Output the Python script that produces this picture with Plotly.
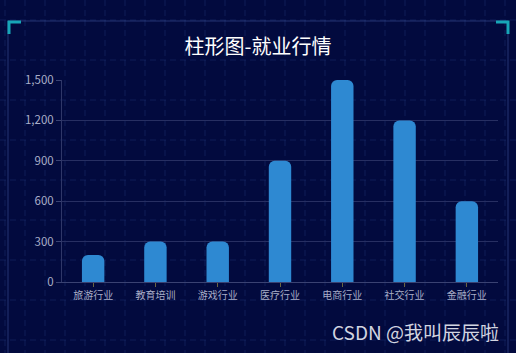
import plotly.graph_objects as go

categories = ["旅游行业", "教育培训", "游戏行业", "医疗行业", "电商行业", "社交行业", "金融行业"]
values = [200, 300, 300, 900, 1500, 1200, 600]
y_ticks = [0, 300, 600, 900, 1200, 1500]

W, H = 516, 353
L, R, T, B = 62, 18, 80, 71
PW, PH = W - L - R, H - T - B

def px(x):
    return (x - L) / PW

def py(y):
    return (H - B - y) / PH

fig = go.Figure()
fig.add_trace(go.Bar(
    x=categories, y=values, width=0.36,
    marker=dict(color="#2e89d2", cornerradius=6, line=dict(width=0)),
    hoverinfo="x+y",
))

shapes = []
grid_c = "rgba(40,60,130,0.38)"
for xv in range(5, W, 20):
    shapes.append(dict(type="line", xref="paper", yref="paper", x0=px(xv), x1=px(xv),
                       y0=py(0), y1=py(H), line=dict(color=grid_c, width=1, dash="6px,4px"), layer="below"))
for yv in range(20, H, 40):
    shapes.append(dict(type="line", xref="paper", yref="paper", x0=px(0), x1=px(W),
                       y0=py(yv), y1=py(yv), line=dict(color=grid_c, width=1, dash="6px,4px"), layer="below"))
border_c = "rgba(60,80,150,0.6)"
shapes.append(dict(type="line", xref="paper", yref="paper", x0=px(8), x1=px(508), y0=py(21), y1=py(21),
                   line=dict(color=border_c, width=1), layer="below"))
shapes.append(dict(type="line", xref="paper", yref="paper", x0=px(8), x1=px(8), y0=py(21), y1=py(H),
                   line=dict(color=border_c, width=1), layer="below"))
shapes.append(dict(type="line", xref="paper", yref="paper", x0=px(508), x1=px(508), y0=py(21), y1=py(H),
                   line=dict(color=border_c, width=1), layer="below"))
teal = "#17a6b8"
shapes.append(dict(type="path", xref="paper", yref="paper",
                   path=f"M {px(9)} {py(34)} L {px(9)} {py(22)} L {px(21)} {py(22)}",
                   line=dict(color=teal, width=3)))
shapes.append(dict(type="path", xref="paper", yref="paper",
                   path=f"M {px(496)} {py(22)} L {px(508)} {py(22)} L {px(508)} {py(34)}",
                   line=dict(color=teal, width=3)))

fig.update_layout(
    width=W, height=H,
    margin=dict(l=L, r=R, t=T, b=B),
    paper_bgcolor="#020a3e",
    plot_bgcolor="rgba(0,0,0,0)",
    showlegend=False,
    font=dict(family="Noto Sans CJK SC, Microsoft YaHei, sans-serif", color="#a9aec8"),
    title=dict(text="柱形图-就业行情", x=0.5, xanchor="center", y=1 - 47 / H, yanchor="middle",
               font=dict(size=20, color="#ffffff", family="Noto Sans CJK SC")),
    xaxis=dict(showgrid=False, showline=True, linecolor="#3a4272", linewidth=1,
               ticks="outside", ticklen=4, tickcolor="#6b6640",
               tickfont=dict(size=10, color="#a9aec8"), fixedrange=True),
    yaxis=dict(range=[0, 1500], tickvals=y_ticks, tickformat=",",
               showgrid=True, gridcolor="#272f62", gridwidth=1,
               showline=True, linecolor="#2f3768", linewidth=1,
               ticks="outside", ticklen=5, tickcolor="#3a4272",
               zeroline=False, tickfont=dict(size=11.5, color="#a9aec8"), fixedrange=True),
    shapes=shapes,
    annotations=[dict(text="CSDN @我叫辰辰啦", xref="paper", yref="paper", x=px(501), y=py(331),
                      xanchor="right", yanchor="middle", showarrow=False,
                      font=dict(size=19, color="#d2d5e0", family="Noto Sans CJK SC"))],
)

fig.write_html("out.html")
